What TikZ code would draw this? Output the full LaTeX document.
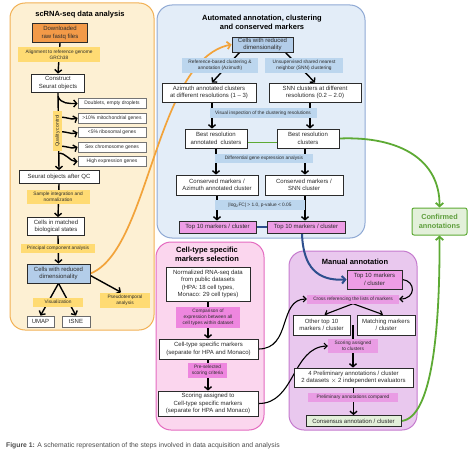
\documentclass[tikz,border=0pt]{standalone}
\usepackage{fontspec}
\setmainfont{Liberation Sans}
\usetikzlibrary{arrows.meta}
\definecolor{orpanel}{HTML}{FDF0D3}
\definecolor{oredge}{HTML}{F2B155}
\definecolor{orbox}{HTML}{F39A48}
\definecolor{yelbl}{HTML}{FFDB73}
\definecolor{blpanel}{HTML}{E3EDF8}
\definecolor{bledge}{HTML}{8FA9D4}
\definecolor{bllbl}{HTML}{BCD6EE}
\definecolor{blbox}{HTML}{B3CDE9}
\definecolor{pkpanel}{HTML}{FBD6EE}
\definecolor{pkedge}{HTML}{E46BC0}
\definecolor{pklbl}{HTML}{EE86DF}
\definecolor{pkbox}{HTML}{EE9DE6}
\definecolor{vipanel}{HTML}{E9C8EE}
\definecolor{viedge}{HTML}{C57BCE}
\definecolor{vilbl}{HTML}{E99CE4}
\definecolor{grline}{HTML}{5DAA34}
\definecolor{grfill}{HTML}{E3F0DA}
\definecolor{grtext}{HTML}{5E9E3C}
\definecolor{navy}{HTML}{2E4F8E}
\definecolor{orline}{HTML}{F2A33A}
\definecolor{ink}{HTML}{2B2B2B}
\pgfdeclarelayer{panels}
\pgfdeclarelayer{links}
\pgfsetlayers{panels,links,main}
\begin{document}
\begin{tikzpicture}[x=1pt,y=-1pt]
\def\boxfont{\fontsize{6}{7.4}\selectfont}
\def\lblfont{\fontsize{4.8}{5.8}\selectfont}
\def\qcfont{\fontsize{5}{6}\selectfont}
\def\headfont{\fontsize{7.5}{9}\selectfont\bfseries}
\tikzset{
    panel/.style={rounded corners=15pt, line width=1pt},
    box/.style={draw=ink, fill=white, line width=0.8pt, text=ink, align=center, inner sep=0pt, font=\boxfont},
    qcbox/.style={box, draw=ink!65, font=\qcfont},
    lbl/.style={fill=#1, text=ink, align=center, inner sep=0pt, font=\lblfont},
    head/.style={align=center, text=black, font=\headfont},
    link/.style={draw=black, line width=1.4pt, -{Straight Barb[length=3pt,width=7pt]}},
    curve link/.style={draw=black, line width=1.1pt, -{Straight Barb[length=3pt,width=6pt]}},
    green link/.style={draw=grline, line width=1.8pt, -{Straight Barb[length=3.4pt,width=7.5pt]}}}
\useasboundingbox (0,0) rectangle (474,452);

% scRNA-seq data analysis
\node[head] (t1) at (80,15) {scRNA-seq data analysis};
\node[box, fill=orbox, minimum width=55, minimum height=19] (dl) at (60,33) {Downloaded\\raw fastq files};
\node[lbl=yelbl, minimum width=82, minimum height=15] (aln) at (59,55) {Alignment to reference genome\\GRCh38};
\node[box, minimum width=53, minimum height=18] (cso) at (58,83) {Construct\\Seurat objects};
\node[qcbox, minimum width=68, minimum height=10] (qc1) at (112,103.5) {Doublets, empty droplets};
\node[qcbox, minimum width=68, minimum height=10] (qc2) at (112,118) {>10\% mitochondrial genes};
\node[qcbox, minimum width=68, minimum height=10] (qc3) at (112,132.5) {<5\% ribosomal genes};
\node[qcbox, minimum width=68, minimum height=10] (qc4) at (112,147) {Sex chromosome genes};
\node[qcbox, minimum width=68, minimum height=10] (qc5) at (112,161.5) {High expression genes};
\node[lbl=yelbl, font=\qcfont, rotate=90, minimum width=40, minimum height=9] (qcl) at (57.5,131) {Quality control};
\node[box, minimum width=80, minimum height=13] (sqc) at (59,177) {Seurat objects after QC};
\node[lbl=yelbl, minimum width=63, minimum height=14] (sin) at (58,196.5) {Sample integration and\\normalization};
\node[box, minimum width=57, minimum height=18] (cmb) at (56,226.5) {Cells in matched\\biological states};
\node[lbl=yelbl, minimum width=74, minimum height=9] (pca) at (58,248) {Principal component analysis};
\node[box, fill=blbox, minimum width=63, minimum height=19] (crd1) at (58.5,273.5) {Cells with reduced\\dimensionality};
\node[lbl=yelbl, minimum width=50, minimum height=9] (vis) at (58,302) {Visualization};
\node[box, draw=ink!70, minimum width=27, minimum height=11] (umap) at (40.5,321.5) {UMAP};
\node[box, draw=ink!70, minimum width=28, minimum height=11] (tsne) at (76,321.5) {tSNE};
\node[lbl=yelbl, minimum width=50, minimum height=15] (pst) at (125,300) {Pseudotemporal\\analysis};

% Automated annotation
\node[head] (t2) at (262,22) {Automated annotation, clustering\\and conserved markers};
\node[box, fill=blbox, minimum width=61, minimum height=15] (crd2) at (262.5,44.5) {Cells with reduced\\dimensionality};
\node[lbl=bllbl, minimum width=76, minimum height=15] (azl) at (220,65.5) {Reference-based clustering \&\\annotation (Azimuth)};
\node[lbl=bllbl, minimum width=78, minimum height=15] (snl) at (304,65.5) {Unsupervised shared nearest\\neighbor (SNN) clustering};
\node[box, minimum width=94, minimum height=19] (azc) at (209,92.5) {Azimuth annotated clusters\\at different resolutions (1 -- 3)};
\node[box, minimum width=92, minimum height=19] (snc) at (315,92.5) {SNN clusters at different\\resolutions (0.2 -- 2.0)};
\node[lbl=bllbl, minimum width=107, minimum height=10] (vil) at (263,113) {Visual inspection of the clustering resolutions};
\node[box, minimum width=62, minimum height=19] (bra) at (216,138.5) {Best resolution\\annotated\ \ clusters};
\node[box, minimum width=62, minimum height=19] (brs) at (308,138.5) {Best resolution\\clusters};
\node[lbl=bllbl, minimum width=98, minimum height=9] (dge) at (264,158.5) {Differential gene expression analysis};
\node[box, minimum width=82, minimum height=20] (cma) at (217,185) {Conserved markers /\\Azimuth annotated cluster};
\node[box, minimum width=78, minimum height=20] (cms) at (304,185) {Conserved markers /\\SNN cluster};
\node[lbl=bllbl, minimum width=90, minimum height=10] (lfc) at (260,205) {|log\textsubscript{2}FC| > 1.0, p-value < 0.05};
\node[box, fill=pkbox, minimum width=77, minimum height=12] (t10a) at (217.5,227) {Top 10 markers / cluster};
\node[box, fill=pkbox, minimum width=78, minimum height=12] (t10s) at (306,227) {Top 10 markers / cluster};

% Cell-type specific markers selection
\node[head] (t3) at (207,254.5) {Cell-type specific\\markers selection};
\node[box, minimum width=84, minimum height=34] (nrd) at (208,284) {Normalized RNA-seq data\\from public datasets\\(HPA: 18 cell types,\\Monaco: 29 cell types)};
\node[lbl=pklbl, minimum width=64, minimum height=21] (cmp) at (208,317.5) {Comparison of\\expression between all\\cell types within dataset};
\node[box, minimum width=99, minimum height=20] (ctm) at (208.5,349) {Cell-type specific markers\\(separate for HPA and Monaco)};
\node[lbl=pklbl, minimum width=39, minimum height=15] (psc) at (207.5,370.5) {Pre-selected\\scoring criteria};
\node[box, minimum width=100, minimum height=25] (sca) at (208,403.5) {Scoring assigned to\\Cell-type specific markers\\(separate for HPA and Monaco)};

% Manual annotation
\node[head] (t4) at (355,262) {Manual annotation};
\node[box, fill=pkbox, minimum width=55, minimum height=19] (t10m) at (374.5,279.5) {Top 10 markers\\/ cluster};
\node[lbl=vilbl, minimum width=92, minimum height=9] (crl) at (353,299) {Cross referencing the lists of markers};
\node[box, minimum width=57, minimum height=20] (oth) at (321.5,325) {Other top 10\\markers / cluster};
\node[box, minimum width=58, minimum height=20] (mat) at (386,325) {Matching markers\\/ cluster};
\node[lbl=vilbl, minimum width=50, minimum height=14] (scl) at (353,346) {Scoring assigned\\to clusters};
\node[box, minimum width=119, minimum height=19] (pre) at (353.5,377.5) {4 Preliminary annotations / cluster\\2 datasets $\times$ 2 independent evaluators};
\node[lbl=vilbl, minimum width=90, minimum height=9] (pac) at (353,397.5) {Preliminary annotations compared};
\node[box, fill=grfill, minimum width=95, minimum height=11] (con) at (353.5,421) {Consensus annotation / cluster};

\node[box, draw=grline, fill=grfill, text=grtext, line width=1pt, rounded corners=2pt, font=\fontsize{7.3}{8.8}\selectfont\bfseries, minimum width=55, minimum height=27] (conf) at (439.5,221.5) {Confirmed\\annotations};

\node[anchor=west, inner sep=0pt, text=ink!85, font=\fontsize{6.8}{8}\selectfont] (cap) at (6,446) {\textbf{Figure 1:} A schematic representation of the steps involved in data acquisition and analysis};

\begin{pgfonlayer}{links}
\draw[link] (dl.south) -- (cso.north);
\draw[link] (cso.south) -- (sqc.north);
\draw[link] ([yshift=-4]cso.south) to[out=-70,in=180] (qc1.west);
\draw[link] (qc2.west -| cso.south) to[out=20,in=200] (qc2.west);
\draw[link] (qc3.west -| cso.south) to[out=20,in=200] (qc3.west);
\draw[link] (qc4.west -| cso.south) to[out=20,in=200] (qc4.west);
\draw[link] ([yshift=8]qc5.west -| cso.south) to[out=10,in=180] (qc5.west);
\draw[link] (sqc.south) -- (58,0 |- cmb.north);
\draw[link] (cmb.south -| 58,0) -- (crd1.north);
\draw[link] (crd1.south) -- (umap.north);
\draw[link] (crd1.south) -- (tsne.north);
\draw[link] ([yshift=-2]crd1.east) -- ([xshift=-4]pst.north);
\draw[draw=orline, line width=1.7pt, -{Straight Barb[length=3.4pt,width=7.5pt]}] (crd1.east) .. controls (150,250) and (155,60) .. (crd2.west);

\draw[link] ([xshift=8]crd2.south west) -- ([xshift=3]azc.north);
\draw[link] ([xshift=-8]crd2.south east) -- (snc.north);
\draw[link] (212,0 |- azc.south) -- (212,0 |- bra.north);
\draw[link] (310,0 |- snc.south) -- (310,0 |- brs.north);
\draw[draw=grline, line width=1.8pt] ([yshift=-4]bra.east) -- ([yshift=-4]bra.east -| brs.west);
\draw[link] (bra.south) -- (bra.south |- cma.north);
\draw[link] (305,0 |- brs.south) -- (305,0 |- cms.north);
\draw[link] (cma.south) -- (cma.south |- t10a.north);
\draw[link] (305,0 |- cms.south) -- (305,0 |- t10s.north);
\draw[draw=navy, line width=1.6pt] (t10a.east) -- (t10s.west);
\draw[green link] (brs.east) .. controls (400,136) and (440,160) .. (conf.north);
\draw[draw=navy, line width=2pt, -{Straight Barb[length=3.4pt,width=7.5pt]}] (302,0 |- t10s.south) .. controls (303,268) and (318,281) .. (t10m.west);

\draw[link] (nrd.south) -- (nrd.south |- ctm.north);
\draw[link] (208,0 |- ctm.south) -- (208,0 |- sca.north);
\draw[curve link] (ctm.east) .. controls (292,349) and (278,299) .. (crl.west);
\draw[curve link] (sca.east) .. controls (295,404) and (292,347) .. (scl.west);

\draw[curve link] (t10m.east) .. controls (416,281) and (416,299) .. (crl.east);
\draw[curve link] (crl.south) -- ([xshift=3]oth.north);
\draw[curve link] (crl.south) -- ([xshift=-3]mat.north);
\draw[link] (scl.north |- oth.east) -- (scl.north |- pre.north);
\draw[link] (pre.south) -- (pre.south |- con.north);
\draw[green link] (con.east) .. controls (432,418) and (440,330) .. (conf.south);
\end{pgfonlayer}

\begin{pgfonlayer}{panels}
\draw[panel, draw=oredge, fill=orpanel] (10,3) rectangle (154,330);
\draw[panel, draw=bledge, fill=blpanel] (157,5) rectangle (365,238);
\draw[panel, draw=pkedge, fill=pkpanel] (156,242) rectangle (264,430);
\draw[panel, draw=viedge, fill=vipanel] (289,251) rectangle (417,430);
\end{pgfonlayer}
\end{tikzpicture}
\end{document}
